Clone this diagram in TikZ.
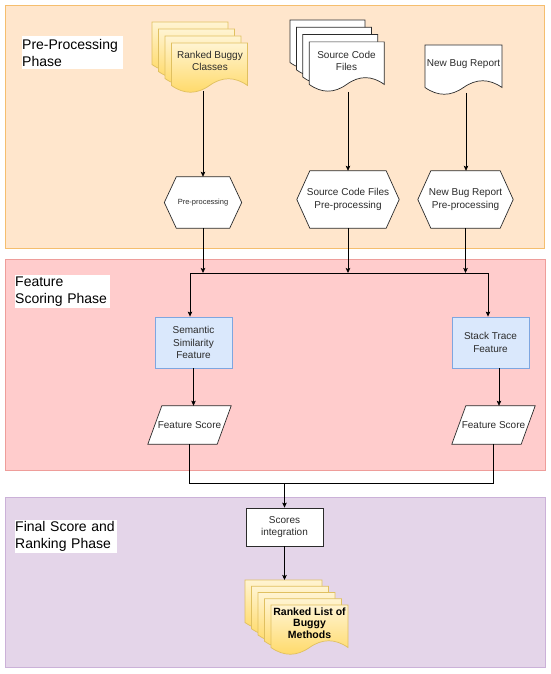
\documentclass[tikz,border=0pt]{standalone}
\usepackage{fontspec}
\setmainfont{Liberation Sans}
\usetikzlibrary{arrows.meta,calc}
\definecolor{p1fill}{HTML}{FFE6CC}\definecolor{p1draw}{HTML}{F5BE6E}
\definecolor{p2fill}{HTML}{FFCCCC}\definecolor{p2draw}{HTML}{EE9D9A}
\definecolor{p3fill}{HTML}{E4D5E9}\definecolor{p3draw}{HTML}{CBB1D8}
\definecolor{bfill}{HTML}{DAE8FC}\definecolor{bdraw}{HTML}{7EA6E0}
\definecolor{ytop}{HTML}{FFF4D2}\definecolor{ybot}{HTML}{FFD966}\definecolor{ydraw}{HTML}{E0C060}
\definecolor{txt}{HTML}{2B2B2B}
\pgfdeclarelayer{bg}\pgfsetlayers{bg,main}
\newcommand\docshape[5]{%
  \path[#1] (#2,#3) -- (#2+#4,#3) -- (#2+#4,#3+0.85*#5)
   .. controls (#2+0.8333*#4,#3+0.67*#5) and (#2+0.6667*#4,#3+0.67*#5) .. (#2+0.5*#4,#3+0.85*#5)
   .. controls (#2+0.3333*#4,#3+1.03*#5) and (#2+0.1667*#4,#3+1.03*#5) .. (#2,#3+0.85*#5) -- cycle;}
\tikzset{
  ln/.style={draw=black, line width=0.8pt},
  arr/.style={ln, -{Stealth[length=5pt,width=4.5pt,inset=1pt]}},
  title/.style={fill=white, inner xsep=0pt, inner ysep=0pt, align=left, anchor=north west,
    minimum height=33pt, font=\fontsize{14}{17}\selectfont, text=black},
  lbl/.style={text=txt, align=center, inner sep=0pt, font=\fontsize{10}{12.5}\selectfont},
  shp/.style={draw=txt, line width=0.7pt, fill=white},
  ydoc/.style={draw=ydraw, line width=0.7pt, top color=ytop, bottom color=ybot},
  wdoc/.style={draw=txt, line width=0.7pt, fill=white},
  bluebox/.style={lbl, draw=bdraw, line width=0.8pt, fill=bfill, minimum width=77pt, minimum height=51pt},
  plainbox/.style={lbl, draw=txt, line width=0.7pt, fill=white, minimum width=77pt, minimum height=38pt},
}
\begin{document}
\begin{tikzpicture}[x=1pt,y=-1pt]
\useasboundingbox (0,0) rectangle (550,674);
% panels
\begin{pgfonlayer}{bg}
\draw[fill=p1fill, draw=p1draw, line width=0.9pt] (5,5) rectangle (544,248);
\draw[fill=p2fill, draw=p2draw, line width=0.9pt] (5,259) rectangle (545,470);
\draw[fill=p3fill, draw=p3draw, line width=0.9pt] (5,497) rectangle (545,667);
\end{pgfonlayer}
% titles
\node[title, text width=101pt] (t1) at (22,36) {Pre-Processing\\Phase};
\node[title, text width=95pt] (t2) at (15,275) {Feature\\Scoring Phase};
\node[title, text width=102pt] (t3) at (15,520) {Final Score and\\Ranking Phase};
% document stacks
\begin{pgfonlayer}{bg}
\foreach \k in {0,...,3}{\docshape{ydoc}{152+6.5*\k}{22+7*\k}{76}{50}}
\foreach \k in {0,...,3}{\docshape{wdoc}{290+6.4*\k}{20+7.3*\k}{75}{50}}
\docshape{wdoc}{425}{45}{77}{50}
\foreach \k in {0,...,4}{\docshape{ydoc}{245+6.5*\k}{580+6.25*\k}{77}{50}}
\end{pgfonlayer}
\node[lbl] (rbc) at (210,61) {Ranked Buggy\\Classes};
\coordinate (rbc-b) at (203,91);
\node[lbl] (scf) at (346.5,61) {Source Code\\Files};
\coordinate (scf-b) at (348,92);
\node[lbl] (nbr) at (463.5,64) {New Bug Report};
\coordinate (nbr-b) at (466,93);
\node[lbl, font=\fontsize{10.5}{11.3}\selectfont\bfseries, text=black] (rlbm) at (309.5,623) {Ranked List of\\Buggy\\Methods};
\coordinate (rlbm-t) at (285,580);
% hexagons
\node[lbl, minimum width=77pt, minimum height=51pt, font=\fontsize{7.5}{9}\selectfont] (h1) at (203,202.5) {Pre-processing};
\node[lbl, minimum width=102pt, minimum height=57pt] (h2) at (348,199.5) {Source Code Files\\Pre-processing};
\node[lbl, minimum width=95pt, minimum height=57pt] (h3) at (465.5,199.5) {New Bug Report\\Pre-processing};
\begin{pgfonlayer}{bg}
\foreach \h/\d in {h1/12pt,h2/13pt,h3/13pt}{
  \draw[shp] (\h.west) -- ([xshift=\d]\h.north west) -- ([xshift=-\d]\h.north east) -- (\h.east)
    -- ([xshift=-\d]\h.south east) -- ([xshift=\d]\h.south west) -- cycle;}
\end{pgfonlayer}
% feature boxes
\node[bluebox] (ssf) at (193.5,342.5) {Semantic\\Similarity\\Feature};
\node[bluebox] (stf) at (490.5,342.5) {Stack Trace\\Feature};
% feature scores
\node[lbl, minimum width=83pt, minimum height=38pt] (fs1) at (189.5,425) {Feature Score};
\node[lbl, minimum width=83pt, minimum height=38pt] (fs2) at (493.5,425) {Feature Score};
\begin{pgfonlayer}{bg}
\foreach \p in {fs1,fs2}{
  \draw[shp] (\p.south west) -- ([xshift=14pt]\p.north west) -- (\p.north east)
    -- ([xshift=-14pt]\p.south east) -- cycle;}
\end{pgfonlayer}
% scores integration
\node[plainbox] (si) at (284.5,527) {Scores\\integration};
% connectors
\coordinate (busL) at (190,273);
\coordinate (busR) at (488,273);
\coordinate (join) at (284.5,483);
\draw[arr] (rbc-b) -- (rbc-b |- h1.north);
\draw[arr] (scf-b) -- (scf-b |- h2.north);
\draw[arr] (nbr-b) -- (nbr-b |- h3.north);
\draw[ln] (busL) -- (busR);
\draw[arr] (h1.south) -- (h1.south |- busL);
\draw[arr] (h2.south) -- (h2.south |- busL);
\draw[arr] (h3.south) -- (h3.south |- busL);
\draw[arr] (busL) -- (busL |- ssf.north);
\draw[arr] (busR) -- (busR |- stf.north);
\draw[arr] (ssf.south) -- (ssf.south |- fs1.north);
\draw[arr] ([xshift=8.5pt]stf.south) -- ([xshift=8.5pt]stf.south |- fs2.north);
\draw[ln] (fs1.south) -- (fs1.south |- join) -- (fs2.south |- join) -- (fs2.south);
\draw[arr] (join) -- (si.north);
\draw[arr] (si.south) -- (si.south |- rlbm-t);
\end{tikzpicture}
\end{document}
